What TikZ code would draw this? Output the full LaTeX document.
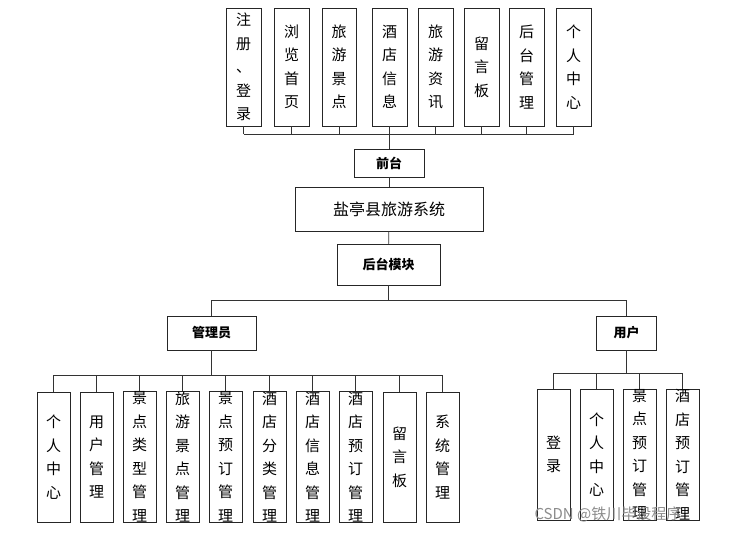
\documentclass[tikz,border=0pt]{standalone}
\usepackage{fontspec}
\newfontfamily\cjk{Noto Sans CJK SC}
\begin{document}
\begin{tikzpicture}[x=1pt,y=-1pt,
  vbox/.style={draw=black!85,line width=0.8pt,inner sep=0pt,align=center,font=\cjk\fontsize{15}{23.5}\selectfont,fill=white},
  hbox/.style={draw=black!85,line width=0.8pt,inner sep=0pt,font=\cjk\bfseries\fontsize{13}{16}\selectfont},
  ln/.style={draw=black!80,line width=0.9pt}]
\useasboundingbox (0,0) rectangle (738,533);
% top row
\foreach \n/\a/\b/\t in {t1/226/261/{注\\册\\、\\登\\录},t2/274/309/{浏\\览\\首\\页},t3/322/356/{旅\\游\\景\\点},t4/372/407/{酒\\店\\信\\息},t5/418/453/{旅\\游\\资\\讯},t6/464/499/{留\\言\\板},t7/509/544/{后\\台\\管\\理},t8/556/591/{个\\人\\中\\心}}
  \node[vbox,minimum width=\b-\a,minimum height=118] (\n) at ({(\a+\b)/2},67) {\t};
\node[hbox,minimum width=70,minimum height=28] (qt) at (389,163) {前台};
\node[draw=black!85,line width=0.8pt,font=\cjk\fontsize{16}{18}\selectfont,minimum width=188,minimum height=44] (sys) at (389,209) {盐亭县旅游系统};
\node[hbox,minimum width=103,minimum height=41] (ht) at (388.5,264.5) {后台模块};
\node[hbox,minimum width=89,minimum height=34] (adm) at (211.5,333) {管理员};
\node[hbox,minimum width=60,minimum height=34] (usr) at (626.5,333) {用户};
\foreach \n in {t1,t2,t3,t4,t5,t6,t7,t8}
  \draw[ln] (\n.south) -- (\n.south |- 0,134);
\draw[ln] (t1.south |- 0,134) -- (t8.south |- 0,134);
\draw[ln] (qt.north) -- (qt.north |- 0,134);
\draw[ln] (qt) -- (sys);
\draw[ln] (sys) -- (ht);
\coordinate (b0) at (388.5,300);
\draw[ln] (ht.south) -- (b0);
\draw[ln] (211.5,300) -- (626.5,300);
\draw[ln] (adm.north) -- (adm.north |- b0);
\draw[ln] (usr.north) -- (usr.north |- b0);
% admin children
\foreach \n/\a/\b/\t in {a1/37/70/{个\\人\\中\\心},a2/80/113/{用\\户\\管\\理},a3/123/156/{景\\点\\类\\型\\管\\理},a4/166/199/{旅\\游\\景\\点\\管\\理},a5/209/242/{景\\点\\预\\订\\管\\理},a6/253/286/{酒\\店\\分\\类\\管\\理},a7/296/329/{酒\\店\\信\\息\\管\\理},a8/339/372/{酒\\店\\预\\订\\管\\理},a9/383/416/{留\\言\\板},a10/426/459/{系\\统\\管\\理}}
  {\node[vbox,minimum width=\b-\a,minimum height=130] (\n) at ({(\a+\b)/2},457) {\t};
   \draw[ln] (\n.north) -- (\n.north |- 0,375);}
\draw[ln] (a1.north |- 0,375) -- (a10.north |- 0,375);
\draw[ln] (adm.south) -- (adm.south |- 0,375);
% user children
\foreach \n/\a/\b/\t in {u1/537/570/{登\\录},u2/580/613/{个\\人\\中\\心},u3/623/656/{景\\点\\预\\订\\管\\理},u4/666/699/{酒\\店\\预\\订\\管\\理}}
  {\node[vbox,minimum width=\b-\a,minimum height=131] (\n) at ({(\a+\b)/2},454.5) {\t};
   \draw[ln] (\n.north) -- (\n.north |- 0,373);}
\draw[ln] (u1.north |- 0,373) -- (u4.north |- 0,373);
\draw[ln] (usr.south) -- (usr.south |- 0,373);
\node[text=black!45,font=\cjk\fontsize{15}{16}\selectfont,anchor=west] (wm) at (531,514) {CSDN @铁川毕设程序};
\end{tikzpicture}
\end{document}
